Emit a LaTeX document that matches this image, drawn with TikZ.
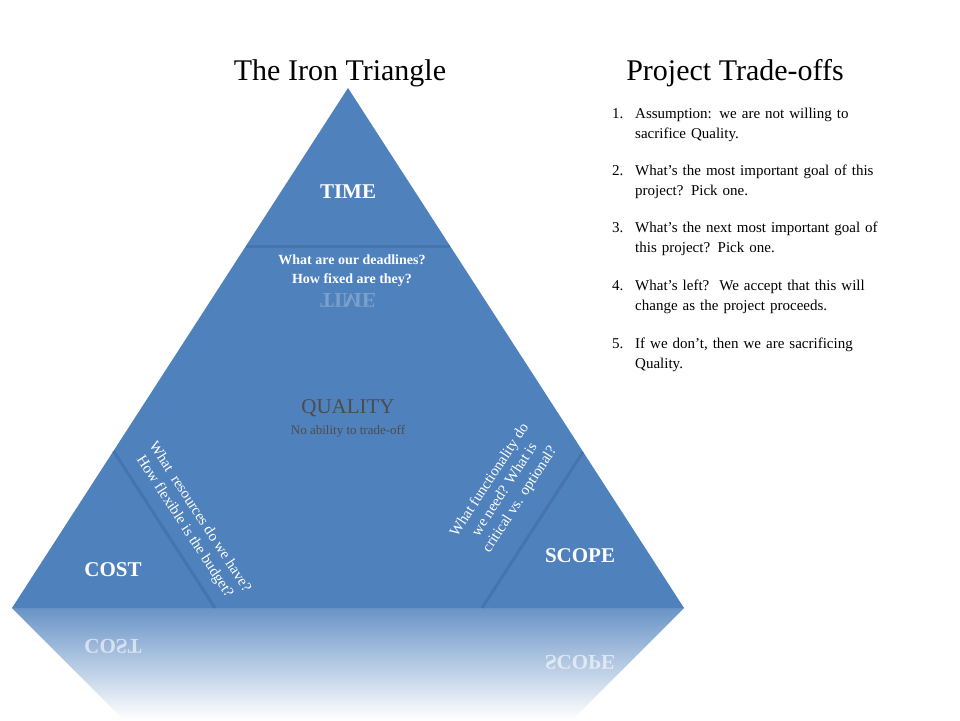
\documentclass[tikz,border=0pt]{standalone}
\usepackage{fontspec}
\setmainfont{Liberation Serif}
\usetikzlibrary{calc}
\definecolor{tri}{HTML}{4F81BD}
\definecolor{trid}{HTML}{3E6A9E}
\begin{document}
\begin{tikzpicture}[x=1pt,y=-1pt,
  wt/.style={text=white,font=\bfseries\fontsize{21}{23}\selectfont},
  q/.style={text=white,font=\bfseries\fontsize{14}{19}\selectfont,align=center},
  rq/.style={text=white,align=center,font=\fontsize{15}{18}\selectfont},
  li/.style={anchor=north west,font=\fontsize{15}{19.5}\selectfont,align=left,text width=300pt,inner sep=0pt}]
\useasboundingbox (0,0) rectangle (960,720);
\fill[white] (0,0) rectangle (960,720);
% reflection
\shade[top color=tri!85,bottom color=white] (12,608) -- (684,608) -- (572,720) -- (124,720) -- cycle;
\node[text=white,opacity=0.6,yscale=-1,font=\bfseries\fontsize{21}{23}\selectfont] (rc) at (113,646) {COST};
\node[text=white,opacity=0.6,yscale=-1,font=\bfseries\fontsize{21}{23}\selectfont] (rs) at (580,662) {SCOPE};
% triangle
\fill[tri] (348,88) -- (684,608) -- (12,608) -- cycle;
\draw[trid,line width=3pt,opacity=0.5] (246,246) -- (450,246);
\draw[trid,line width=3pt,opacity=0.5] (113.5,451) -- (215,608);
\draw[trid,line width=3pt,opacity=0.5] (583,452) -- (482,608);
\node (title) at (340,73) {\fontsize{30}{32}\selectfont The Iron Triangle};
\node (title2) at (735,73) {\fontsize{30}{32}\selectfont Project Trade-offs};
\node[wt] (time) at (348,192) {TIME};
\node[q] (tq) at (352,271) {What are our deadlines?\\How fixed are they?};
\node[text=white,opacity=0.25,yscale=-1,font=\bfseries\fontsize{21}{23}\selectfont] (tr) at (348,300) {TIME};
\node[text=black!70,font=\fontsize{21}{23}\selectfont] (qual) at (348,408) {QUALITY};
\node[text=black!70,font=\fontsize{13}{15}\selectfont] (qs) at (348,431) {No ability to trade-off};
\node[wt] (cost) at (113,570) {COST};
\node[wt] (scope) at (580,556) {SCOPE};
\node[rq,rotate=-57] (cq) at (192,522) {What\ \ resources do we have?\\How flexible is the budget?};
\node[rq,rotate=57] (sq) at (505,490) {What functionality do\\we need? What is\\critical vs. optional?};
\foreach \n/\y/\t in {1/108/{Assumption: we are not willing to\\sacrifice Quality.},
  2/165/{What's the most important goal of this\\project? Pick one.},
  3/222/{What's the next most important goal of\\this project? Pick one.},
  4/280/{What's left?\ \ We accept that this will\\change as the project proceeds.},
  5/338/{If we don't, then we are sacrificing\\Quality.}}{
  \node[li,text width=20pt] (n\n) at (612,\y) {\n.};
  \node[li] (l\n) at (635,\y) {\t};
}
\end{tikzpicture}
\end{document}
